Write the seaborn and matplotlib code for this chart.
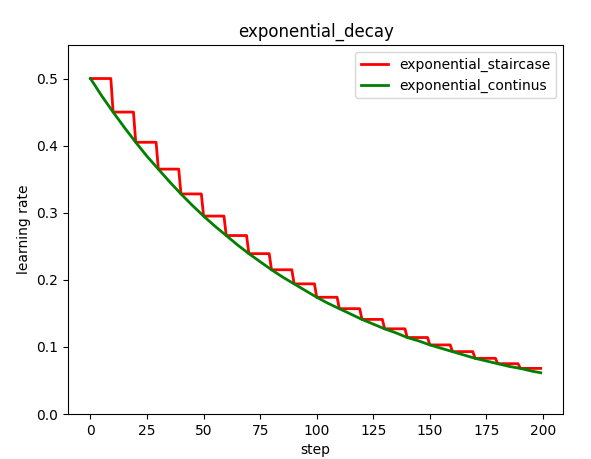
import seaborn as sns
import matplotlib.pyplot as plt
import pandas as pd

# staircase levels, one per block of 10 steps
stair_levels = [0.500, 0.450, 0.405, 0.365, 0.328, 0.295, 0.266, 0.239, 0.215, 0.194,
                0.174, 0.157, 0.141, 0.127, 0.114, 0.103, 0.093, 0.083, 0.075, 0.068]
block_len = 10

# continuous curve sampled every 5 steps, plus last step
cont_steps = list(range(0, 200, 5)) + [199]
cont_values = [0.500, 0.474, 0.450, 0.427, 0.405, 0.384, 0.365, 0.346, 0.328, 0.311,
               0.295, 0.280, 0.266, 0.252, 0.239, 0.227, 0.215, 0.204, 0.194, 0.184,
               0.174, 0.165, 0.157, 0.149, 0.141, 0.134, 0.127, 0.121, 0.114, 0.109,
               0.103, 0.098, 0.093, 0.088, 0.083, 0.079, 0.075, 0.071, 0.068, 0.064,
               0.0615]

# build staircase as flat segments from step 10k to 10k+9
stair_x, stair_y = [], []
for i, lv in enumerate(stair_levels):
    stair_x += [i * block_len, i * block_len + block_len - 1]
    stair_y += [lv, lv]

df_stair = pd.DataFrame({'step': stair_x, 'lr': stair_y})
df_cont = pd.DataFrame({'step': cont_steps, 'lr': cont_values})

fig, ax = plt.subplots(figsize=(5.91, 4.59), dpi=100)
sns.lineplot(data=df_stair, x='step', y='lr', color='red', linewidth=2,
             label='exponential_staircase', ax=ax, sort=False)
sns.lineplot(data=df_cont, x='step', y='lr', color='green', linewidth=2,
             label='exponential_continus', ax=ax, sort=False)
ax.set_ylim(0, 0.55)
ax.set_title('exponential_decay')
ax.set_xlabel('step')
ax.set_ylabel('learning rate')
ax.legend(loc='upper right')
plt.subplots_adjust(left=0.115, right=0.953, top=0.902, bottom=0.098)
plt.savefig('out.png')
